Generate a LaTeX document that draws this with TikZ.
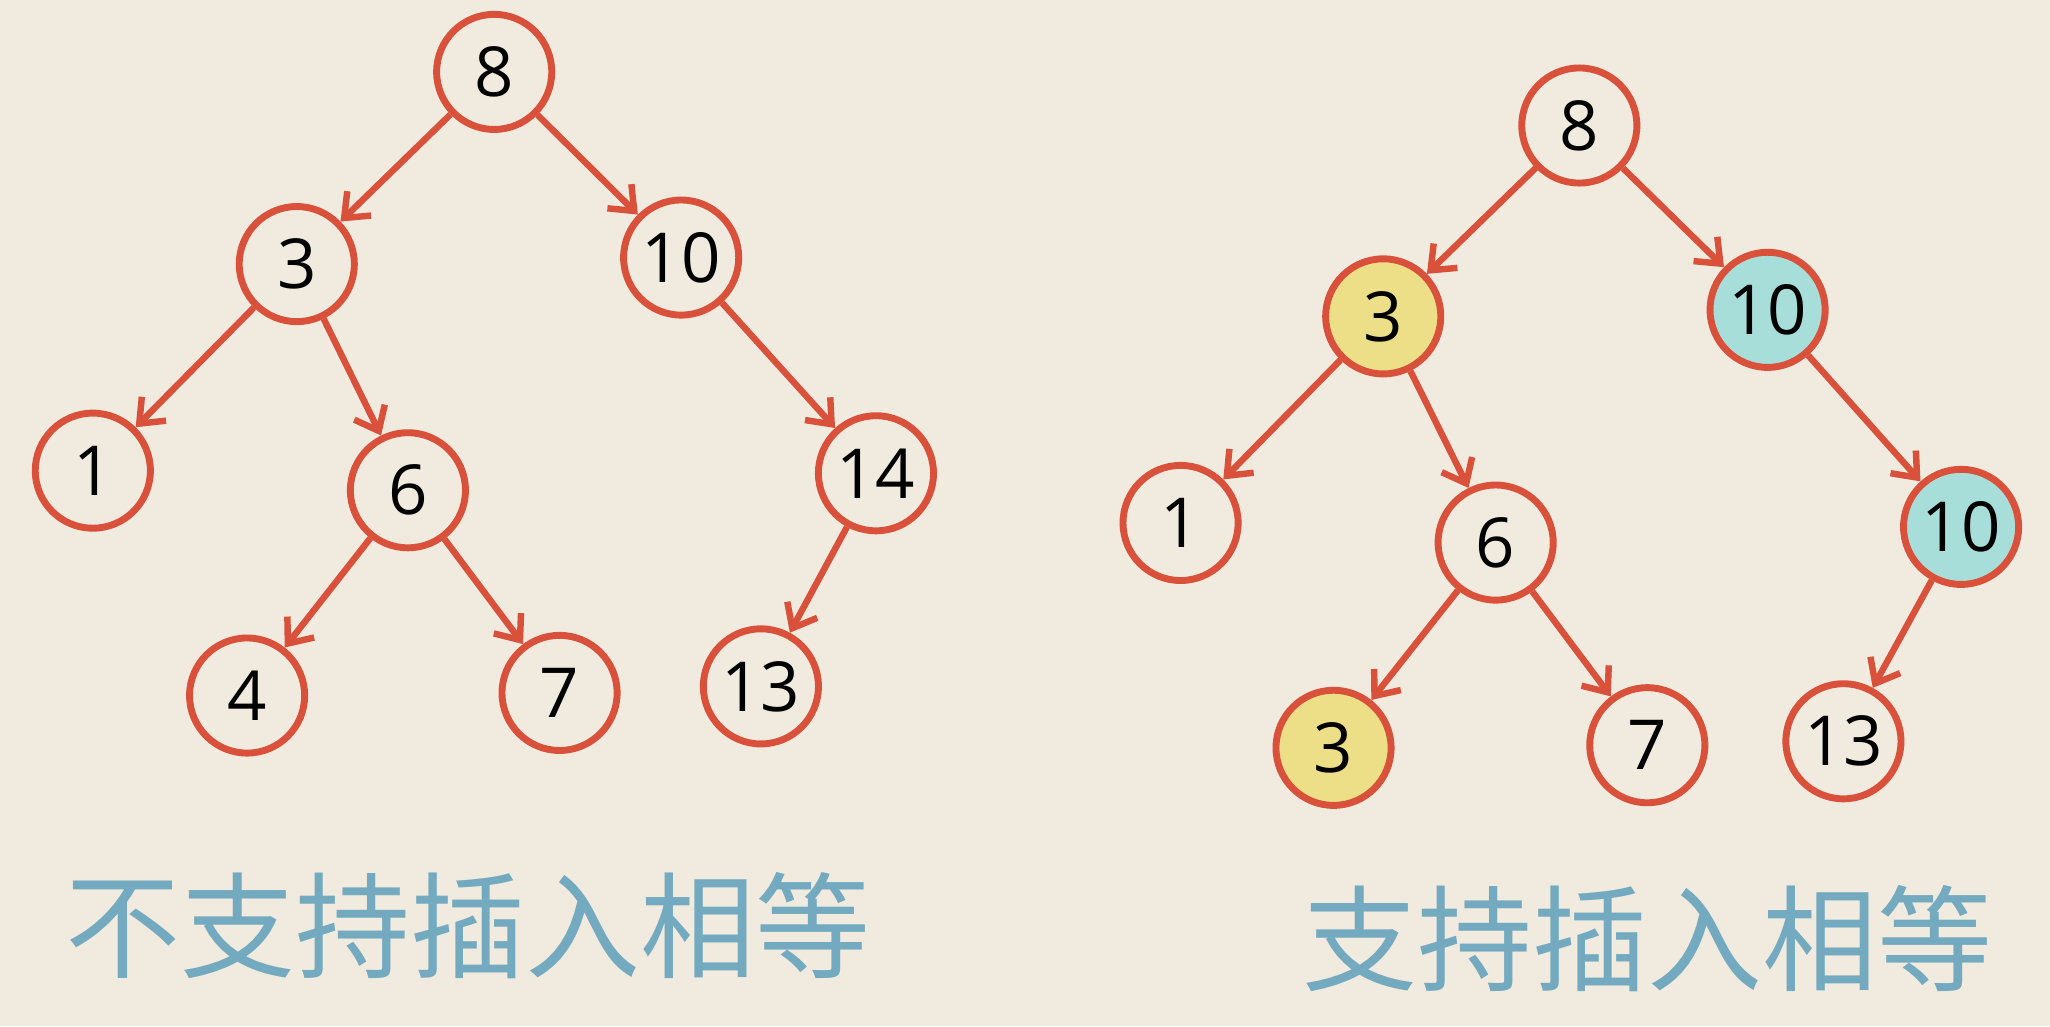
\documentclass[tikz,border=0pt]{standalone}
\usepackage{fontspec}
\newfontfamily\cjk{Noto Sans CJK SC}
\setsansfont{Open Sans}
\usetikzlibrary{arrows.meta}
\definecolor{paper}{HTML}{F0EADF}
\definecolor{edgered}{HTML}{D9513A}
\definecolor{eqyellow}{HTML}{EDDF88}
\definecolor{eqteal}{HTML}{A8DEDA}
\definecolor{labelblue}{HTML}{73AABF}
\begin{document}
\begin{tikzpicture}[x=0.01cm,y=-0.01cm,
  keynode/.style={circle,draw=edgered,line width=1.5pt,fill=paper,
    minimum size=0.88cm,inner sep=0pt,font=\sffamily\fontsize{15}{15}\selectfont},
  link/.style={-{Straight Barb[length=1.6mm,width=2.6mm]},edgered,line width=1.4pt},
  caption/.style={text=labelblue,font=\cjk\fontsize{25}{25}\selectfont}]
\fill[paper] (0,0) rectangle (1568,785);
\useasboundingbox (0,0) rectangle (1568,785);
% Left tree
\node[keynode] (l8) at (378,55) {8};
\node[keynode] (l3) at (227,202) {3};
\node[keynode] (l10) at (521,197) {10};
\node[keynode] (l1) at (71,360) {1};
\node[keynode] (l6) at (312,375) {6};
\node[keynode] (l14) at (670,362) {14};
\node[keynode] (l4) at (189,532) {4};
\node[keynode] (l7) at (428,530) {7};
\node[keynode] (l13) at (582,525) {13};
\draw[link] (l8) -- (l3);
\draw[link] (l8) -- (l10);
\draw[link] (l3) -- (l1);
\draw[link] (l3) -- (l6);
\draw[link] (l10) -- (l14);
\draw[link] (l6) -- (l4);
\draw[link] (l6) -- (l7);
\draw[link] (l14) -- (l13);
% Right tree
\node[keynode] (r8) at (1208,96) {8};
\node[keynode,fill=eqyellow] (r3) at (1058,242) {3};
\node[keynode,fill=eqteal] (r10) at (1352,237) {10};
\node[keynode] (r1) at (903,400) {1};
\node[keynode] (r6) at (1144,415) {6};
\node[keynode,fill=eqteal] (r10b) at (1500,403) {10};
\node[keynode,fill=eqyellow] (r3b) at (1020,572) {3};
\node[keynode] (r7) at (1260,570) {7};
\node[keynode] (r13) at (1410,567) {13};
\draw[link] (r8) -- (r3);
\draw[link] (r8) -- (r10);
\draw[link] (r3) -- (r1);
\draw[link] (r3) -- (r6);
\draw[link] (r10) -- (r10b);
\draw[link] (r6) -- (r3b);
\draw[link] (r6) -- (r7);
\draw[link] (r10b) -- (r13);
% Captions
\node[caption] (lcap) at (358,708) {不支持插入相等};
\node[caption] (rcap) at (1260,718) {支持插入相等};
\end{tikzpicture}
\end{document}
